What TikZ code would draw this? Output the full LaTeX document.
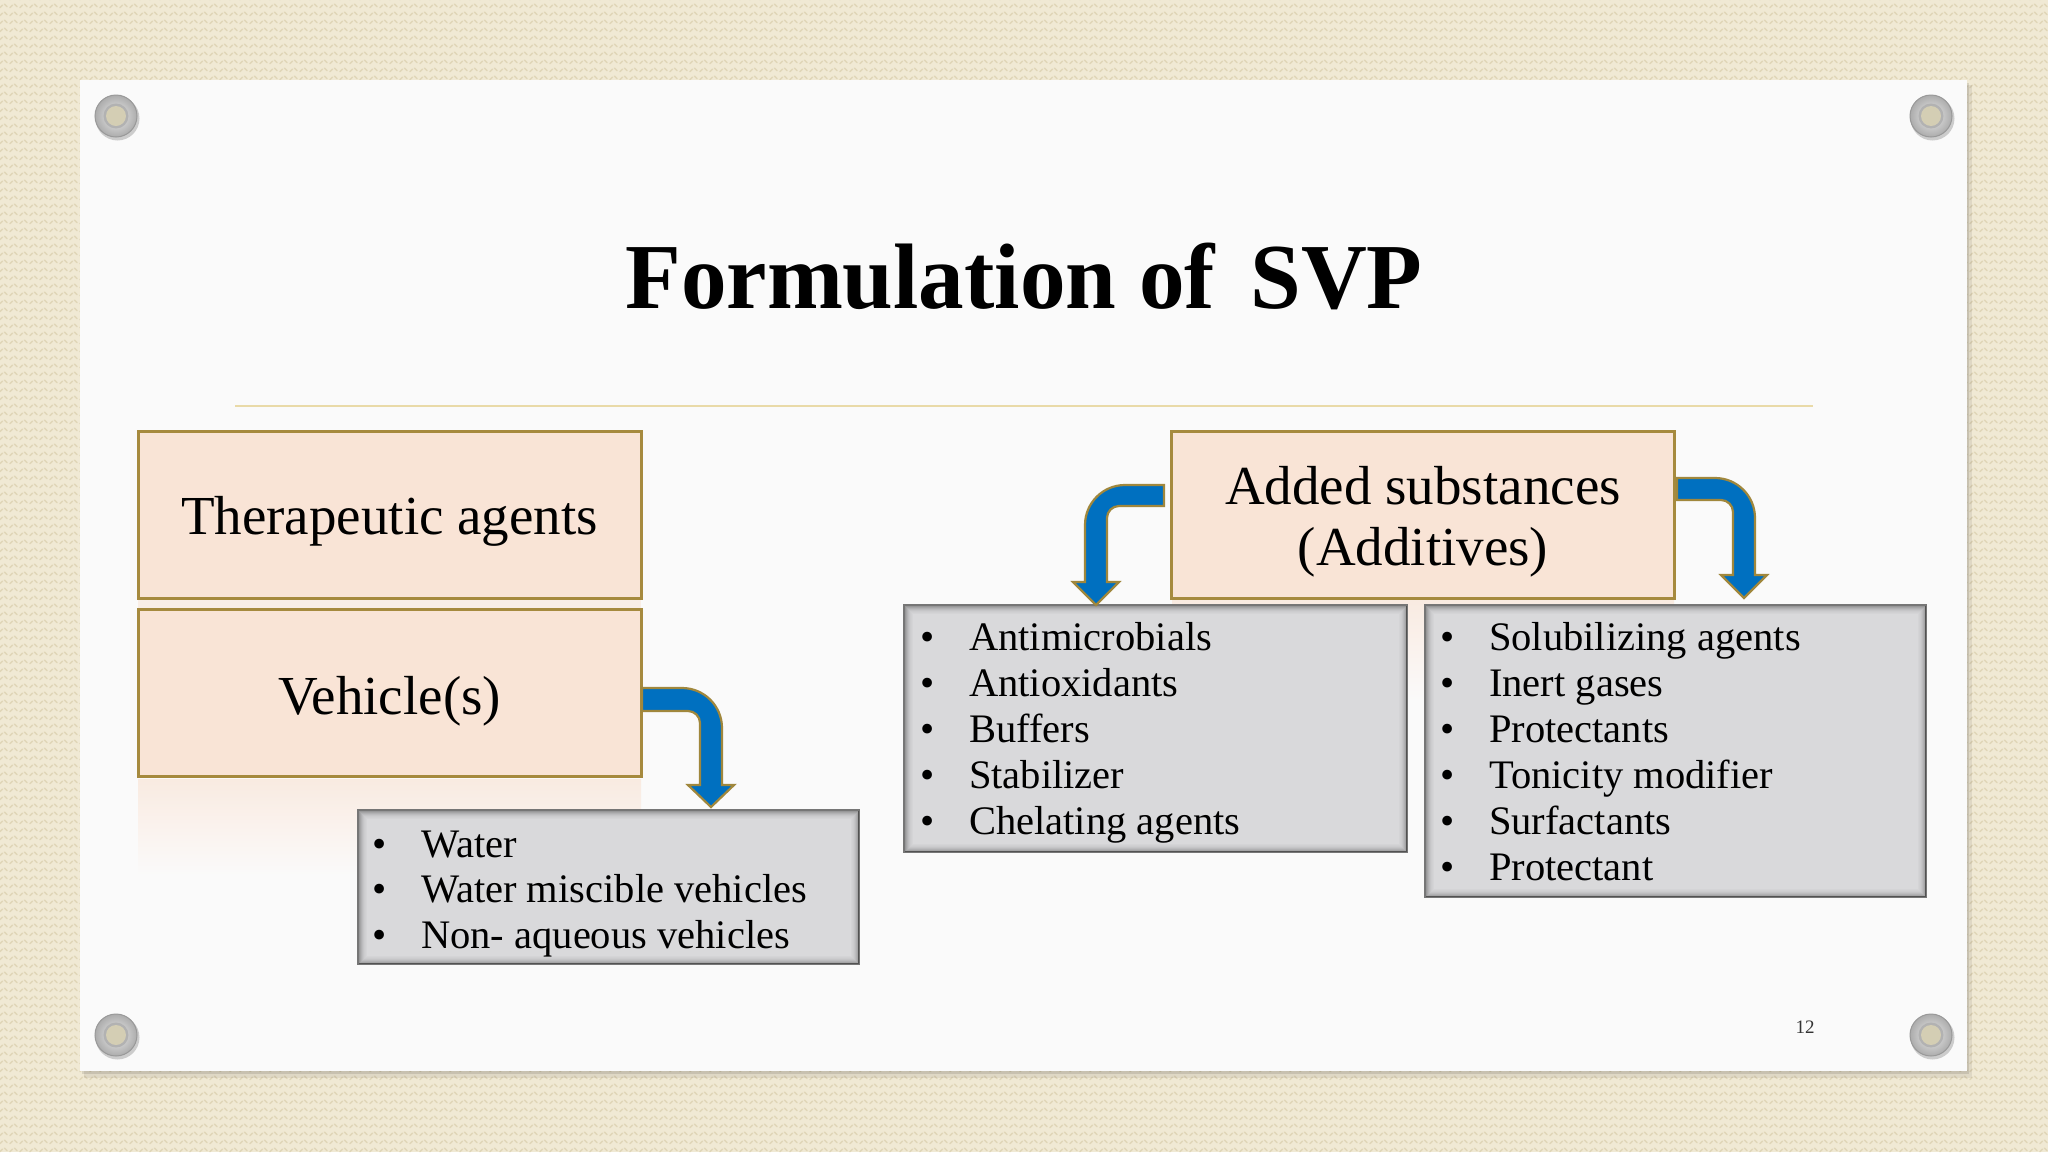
\documentclass[tikz,border=0pt]{standalone}
\usepackage{fontspec}
\setmainfont{Liberation Serif}
\newfontfamily\titlefont[FakeStretch=0.98]{Liberation Serif}
\usetikzlibrary{calc,patterns.meta}
\definecolor{canvas}{RGB}{240,233,212}
\definecolor{canvasdark}{RGB}{224,214,184}
\definecolor{holec}{RGB}{212,206,180}
\definecolor{card}{RGB}{250,250,250}
\definecolor{peach}{RGB}{249,228,214}
\definecolor{peachline}{RGB}{166,138,62}
\definecolor{arrowblue}{RGB}{0,112,192}
\definecolor{arrowgold}{RGB}{160,135,60}
\definecolor{listgray}{RGB}{217,217,219}
\definecolor{listline}{RGB}{118,118,118}
\definecolor{rulegold}{RGB}{233,218,168}
\tikzdeclarepattern{
  name=weave, type=uncolored,
  bounding box={(0pt,0pt) and (10pt,8pt)},
  tile size={(10pt,8pt)},
  code={
    \draw[line width=1.5pt, line cap=round] (1pt,1.5pt) -- (4pt,4.5pt);
    \draw[line width=1.5pt, line cap=round] (6pt,5.5pt) -- (9pt,2.5pt);
  }
}
\begin{document}
\begin{tikzpicture}[x=1pt,y=-1pt,
  peachbox/.style={draw=peachline, line width=3pt, fill=peach, minimum width=503pt, minimum height=167pt, inner sep=0pt},
  boxtext/.style={align=center, inner sep=0pt, font=\fontsize{55}{61}\selectfont},
  listbox/.style={draw=listline, line width=2pt, fill=listgray, inner sep=0pt},
  item/.style={anchor=base west, inner sep=0pt, font=\fontsize{40.5}{46}\selectfont},
  bendarrow/.style={fill=arrowblue, draw=arrowgold, line width=2.2pt, line join=miter},
]
% canvas and card
\fill[canvas] (0,0) rectangle (2048,1152);
\fill[pattern=weave, pattern color=canvasdark] (0,0) rectangle (2048,1152);
\useasboundingbox (0,0) rectangle (2048,1152);
\fill[black,opacity=0.07] (84,85) rectangle (1972,1078);
\fill[black,opacity=0.10] (82,83) rectangle (1969,1074);
\fill[card] (80,80) rectangle (1967,1071);

% title and rule
\node[font=\fontsize{93}{100}\selectfont\titlefont\bfseries, anchor=base, inner sep=0pt] (title) at (1024,308) {Formulation of\hspace{0.38em}SVP};
\draw[rulegold, line width=2.5pt] (235,406) -- (1813,406);

% reflections
\fill[peach!55!card] (138,599) rectangle (641,609);
\shade[top color=peach!70!card, bottom color=card] (138,779) rectangle (641,875);
\shade[top color=peach!70!card, bottom color=card] (1172,599) rectangle (1674,700);

% grey list boxes
\node[listbox, minimum width=501pt, minimum height=154pt] (water) at (608.5,887) {};
\node[listbox, minimum width=503pt, minimum height=247pt] (list1) at (1155.5,728.5) {};
\node[listbox, minimum width=501pt, minimum height=292pt] (list2) at (1675.5,751) {};
\foreach \n in {water,list1,list2}{
  \foreach \k/\o in {2/0.30,3/0.24,4/0.18,5/0.13,6/0.09,7/0.06,8/0.04,9/0.02}{
    \draw[black,opacity=\o,line width=1pt] ($(\n.north west)+(\k,\k)$) rectangle ($(\n.south east)+(-\k,-\k)$);
  }
}

% peach boxes
\node[peachbox] (ther) at (389.5,514.5) {};
\node[peachbox] (veh) at (389.5,693) {};
\node[peachbox] (add) at (1423,514.5) {};
\node[boxtext] (thert) at ($(ther.center)+(0,7)$) {Therapeutic agents};
\node[boxtext] (veht) at ($(veh.center)+(0,8)$) {Vehicle(s)};
\node[boxtext] (addt) at ($(add.center)+(0,7)$) {Added substances\\(Additives)};

% bent block arrows
\draw[bendarrow] (642,688) -- (682,688) .. controls (704.1,688) and (722,705.9) .. (722,728) -- (722,785) -- (734,785) -- (711,807) -- (688,785) -- (700,785) -- (700,723) .. controls (700,716.4) and (694.6,711) .. (688,711) -- (642,711) -- cycle;
\draw[bendarrow] (1677,478) -- (1715,478) .. controls (1737.1,478) and (1755,495.9) .. (1755,518) -- (1755,575) -- (1767,575) -- (1744,598) -- (1721,575) -- (1733,575) -- (1733,512) .. controls (1733,505.4) and (1727.6,500) .. (1721,500) -- (1677,500) -- cycle;
\draw[bendarrow] (1164,485) -- (1125,485) .. controls (1102.9,485) and (1085,502.9) .. (1085,525) -- (1085,582) -- (1073,582) -- (1096,605) -- (1119,582) -- (1107,582) -- (1107,518) .. controls (1107,511.4) and (1112.4,506) .. (1119,506) -- (1164,506) -- cycle;

% list items
\node[item] (w1) at (372,857) {\makebox[49pt][l]{\textbullet}Water};
\node[item] (w2) at (372,902) {\makebox[49pt][l]{\textbullet}Water miscible vehicles};
\node[item] (w3) at (372,948) {\makebox[49pt][l]{\textbullet}Non- aqueous vehicles};

\node[item] (a1) at (920,650) {\makebox[49pt][l]{\textbullet}Antimicrobials};
\node[item] (a2) at (920,696) {\makebox[49pt][l]{\textbullet}Antioxidants};
\node[item] (a3) at (920,742) {\makebox[49pt][l]{\textbullet}Buffers};
\node[item] (a4) at (920,788) {\makebox[49pt][l]{\textbullet}Stabilizer};
\node[item] (a5) at (920,834) {\makebox[49pt][l]{\textbullet}Chelating agents};

\node[item] (b1) at (1440,650) {\makebox[49pt][l]{\textbullet}Solubilizing agents};
\node[item] (b2) at (1440,696) {\makebox[49pt][l]{\textbullet}Inert gases};
\node[item] (b3) at (1440,742) {\makebox[49pt][l]{\textbullet}Protectants};
\node[item] (b4) at (1440,788) {\makebox[49pt][l]{\textbullet}Tonicity modifier};
\node[item] (b5) at (1440,834) {\makebox[49pt][l]{\textbullet}Surfactants};
\node[item] (b6) at (1440,880) {\makebox[49pt][l]{\textbullet}Protectant};

% page number
\node[font=\fontsize{19}{20}\selectfont, text=black!80, inner sep=0pt] (pg) at (1805,1027) {12};

% grommets
\foreach \gx/\gy in {116/116, 1931/116, 116/1035, 1931/1035}{
  \fill[black,opacity=0.18] (\gx+1.5,\gy+2.5) circle (22pt);
  \shade[inner color=gray!15, outer color=gray!65] (\gx,\gy) circle (21pt);
  \draw[gray!80, line width=1pt] (\gx,\gy) circle (21pt);
  \fill[gray!60] (\gx,\gy) circle (12.5pt);
  \fill[holec] (\gx,\gy) circle (10pt);
}
\end{tikzpicture}
\end{document}
